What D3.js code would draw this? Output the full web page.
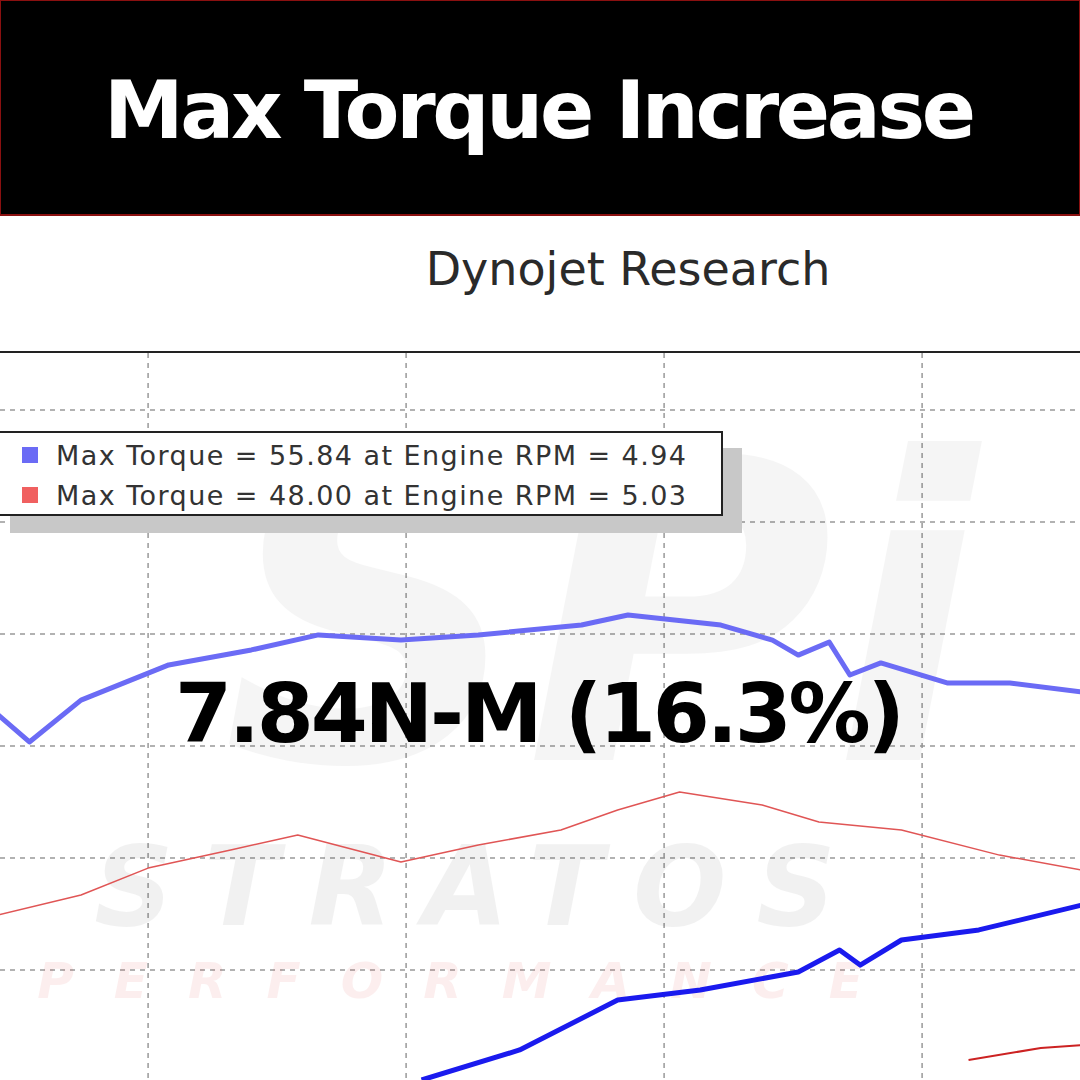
<!DOCTYPE html>
<html><head><meta charset="utf-8">
<script src="https://cdn.jsdelivr.net/npm/d3@7"></script>
<style>body{margin:0;background:#fff}svg{display:block}</style>
</head><body>
<svg id="c" width="1080" height="1080"></svg>
<script>
// torque runs: [engine rpm (x1000), torque N-m]
const tunedRun = [[3.21,51.38],[3.27,50.18],[3.37,52.05],[3.54,53.62],[3.70,54.29],[3.83,54.96],[3.99,54.73],[4.14,54.96],[4.34,55.40],[4.43,55.85],[4.61,55.40],[4.71,54.73],[4.76,54.06],[4.82,54.64],[4.86,53.17],[4.92,53.71],[5.05,52.81],[5.17,52.81],[5.31,52.41]];
const stockRun = [[3.21,42.46],[3.37,43.35],[3.50,44.55],[3.66,45.36],[3.79,46.03],[3.99,44.82],[4.14,45.58],[4.30,46.25],[4.41,47.14],[4.53,47.95],[4.69,47.37],[4.80,46.61],[4.96,46.25],[5.15,45.13],[5.31,44.46]];
const tunedPower = [[4.03,35.09],[4.22,36.43],[4.41,38.66],[4.57,39.11],[4.76,39.91],[4.84,40.89],[4.88,40.22],[4.96,41.34],[5.11,41.79],[5.31,42.90]];
const stockPower = [[5.09,35.98],[5.23,36.52],[5.31,36.65]];
const xTicks = [3.5, 4.0, 4.5, 5.0];
const yTicks = [40, 45, 50, 55, 60, 65];
const legendItems = [
  {label: 'Max Torque = 55.84 at Engine RPM = 4.94', color: '#6b6bf5'},
  {label: 'Max Torque = 48.00 at Engine RPM = 5.03', color: '#f06060'}
];

const svg = d3.select('#c');
const x = d3.scaleLinear().domain([3.213, 5.306]).range([0, 1080]);
const y = d3.scaleLinear().domain([67.59, 35.09]).range([352, 1080]);

// banner
svg.append('rect').attr('x', 0).attr('y', 0).attr('width', 1080).attr('height', 215).attr('fill', '#000')
  .attr('stroke', '#8a1010').attr('stroke-width', 2);
svg.append('text').attr('x', 540).attr('y', 138).attr('text-anchor', 'middle')
  .attr('font-family', 'DejaVu Sans').attr('font-weight', 'bold').attr('font-size', 80)
  .attr('textLength', 872).attr('fill', '#fff').text('Max Torque Increase');

svg.append('text').attr('x', 628).attr('y', 285).attr('text-anchor', 'middle')
  .attr('font-family', 'DejaVu Sans').attr('font-size', 46).attr('fill', '#2a2a2a').text('Dynojet Research');

// plot frame + grid
svg.append('line').attr('x1', 0).attr('x2', 1080).attr('y1', 352).attr('y2', 352).attr('stroke', '#222').attr('stroke-width', 2);
const grid = svg.append('g').attr('stroke', '#999').attr('stroke-dasharray', '5,5').attr('stroke-width', 1.5);
grid.selectAll('.vx').data(xTicks).enter().append('line')
  .attr('x1', d => x(d)).attr('x2', d => x(d)).attr('y1', 353).attr('y2', 1080);
grid.selectAll('.hy').data(yTicks).enter().append('line')
  .attr('x1', 0).attr('x2', 1080).attr('y1', d => y(d)).attr('y2', d => y(d));

// watermark (drawn as faint shapes behind the plot)
const wm = svg.append('g').attr('font-family', 'DejaVu Sans').attr('font-weight', 'bold').attr('font-style', 'italic');
wm.append('text').attr('x', 600).attr('y', 760).attr('text-anchor', 'middle').attr('font-size', 420)
  .attr('fill', '#000').attr('opacity', 0.035).text('SPi');
wm.append('text').attr('x', 480).attr('y', 925).attr('text-anchor', 'middle').attr('font-size', 110)
  .attr('letter-spacing', 30).attr('fill', '#000').attr('opacity', 0.05).text('STRATOS');
wm.append('text').attr('x', 470).attr('y', 998).attr('text-anchor', 'middle').attr('font-size', 50)
  .attr('letter-spacing', 40).attr('fill', '#e03030').attr('opacity', 0.08).text('PERFORMANCE');

const line = d3.line().x(d => x(d[0])).y(d => y(d[1]));
const series = [
  {data: tunedRun, color: '#6b6bf5', w: 5},
  {data: stockRun, color: '#e05555', w: 1.5},
  {data: tunedPower, color: '#1a1aee', w: 5},
  {data: stockPower, color: '#cc2222', w: 2}
];
svg.selectAll('.run').data(series).enter().append('path')
  .attr('d', d => line(d.data)).attr('fill', 'none')
  .attr('stroke', d => d.color).attr('stroke-width', d => d.w).attr('stroke-linejoin', 'round');

// legend
const lg = svg.append('g');
lg.append('rect').attr('x', 10).attr('y', 448).attr('width', 732).attr('height', 85).attr('fill', '#c8c8c8');
lg.append('rect').attr('x', -2).attr('y', 432).attr('width', 724).attr('height', 83).attr('fill', '#fff').attr('stroke', '#222').attr('stroke-width', 2);
const li = lg.selectAll('.li').data(legendItems).enter().append('g')
  .attr('transform', (d, i) => `translate(22,${455 + i * 40})`);
li.append('rect').attr('x', 0).attr('y', -8).attr('width', 16).attr('height', 16).attr('fill', d => d.color);
li.append('text').attr('x', 34).attr('y', 10).attr('font-family', 'DejaVu Sans').attr('font-size', 27)
  .attr('textLength', 630).attr('fill', '#333').text(d => d.label);

svg.append('text').attr('x', 540).attr('y', 742).attr('text-anchor', 'middle')
  .attr('font-family', 'DejaVu Sans').attr('font-weight', 'bold').attr('font-size', 82)
  .attr('textLength', 730).attr('fill', '#000').text('7.84N-M (16.3%)');
</script>
</body></html>
